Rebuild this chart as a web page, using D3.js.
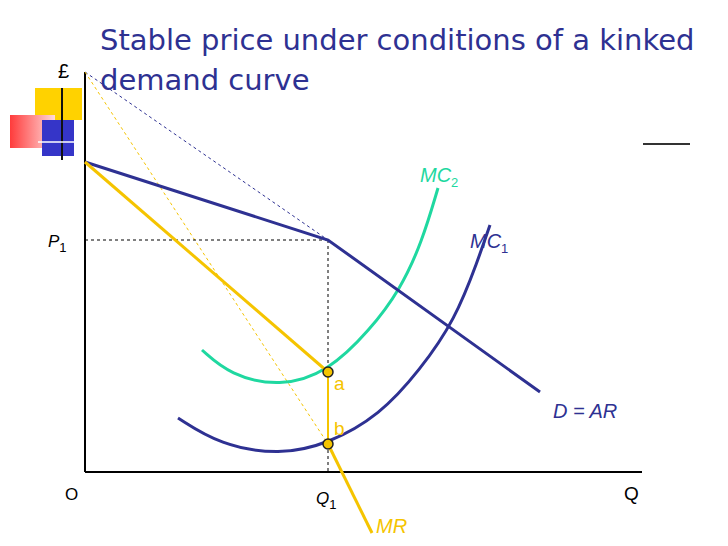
<!DOCTYPE html>
<html><head><meta charset="utf-8">
<script src="https://cdn.jsdelivr.net/npm/d3@7/dist/d3.min.js"></script>
<style>body{margin:0;background:#fff}text{font-family:"Liberation Sans",Arial,sans-serif}.title{font-family:Verdana,"DejaVu Sans",sans-serif}</style>
</head><body>
<script>
// curves in chart units (origin at O)
var demand = [[0, 310], [243, 232], [455, 80]];
var mrUpper = [[0, 310], [243, 100]];
var mrGap = [[243, 100], [243, 28]];
var mrLower = [[243, 28], [287, -61]];
var dashDark = [[0, 400], [243, 232]];
var dashYellow = [[0, 400], [243, 28]];
var mc2 = [[117, 122], [145, 97], [195, 85], [243, 100], [285, 142], [315, 182], [337, 230], [353, 284]];
var mc1 = [[93, 54], [135, 27], [195, 17], [243, 28], [295, 57], [335, 102], [370, 152], [393, 212], [405, 247]];
var kink = [243, 232];
var points = [[243, 100, "a"], [243, 28, "b"]];

var width = 728, height = 546;
var x = d3.scaleLinear().domain([0, 560]).range([85, 645]);
var y = d3.scaleLinear().domain([0, 400]).range([472, 72]);
var navy = "#2e3192", green = "#1fd8a0", yellow = "#f5c400";

var svg = d3.select("body").append("svg").attr("width", width).attr("height", height);

// decoration top-left
svg.append("rect").attr("x", 35).attr("y", 88).attr("width", 47).attr("height", 32).attr("fill", "#ffd200");
var grad = svg.append("defs").append("linearGradient").attr("id", "rg");
grad.append("stop").attr("offset", "0").attr("stop-color", "#ff3b3b");
grad.append("stop").attr("offset", "1").attr("stop-color", "#ffdada");
svg.append("rect").attr("x", 10).attr("y", 115).attr("width", 45).attr("height", 33).attr("fill", "url(#rg)");
svg.append("rect").attr("x", 42).attr("y", 120).attr("width", 32).attr("height", 36).attr("fill", "#3535c8");
svg.append("line").attr("x1", 62).attr("x2", 62).attr("y1", 88).attr("y2", 160).attr("stroke", "#111").attr("stroke-width", 2);
svg.append("line").attr("x1", 38).attr("x2", 80).attr("y1", 142).attr("y2", 142).attr("stroke", "#fff").attr("stroke-width", 1.5);
svg.append("line").attr("x1", 643).attr("x2", 690).attr("y1", 144).attr("y2", 144).attr("stroke", "#333").attr("stroke-width", 2);

// title
svg.append("text").attr("class", "title").attr("x", 100).attr("y", 50).attr("font-size", 29).attr("fill", navy).text("Stable price under conditions of a kinked");
svg.append("text").attr("class", "title").attr("x", 100).attr("y", 90).attr("font-size", 29).attr("fill", navy).text("demand curve");

// axes
svg.append("line").attr("x1", x(0)).attr("x2", x(0)).attr("y1", y(400)).attr("y2", y(0)).attr("stroke", "#000").attr("stroke-width", 2);
svg.append("line").attr("x1", x(0)).attr("x2", x(557)).attr("y1", y(0)).attr("y2", y(0)).attr("stroke", "#000").attr("stroke-width", 2);

var line = d3.line().x(function(d) { return x(d[0]); }).y(function(d) { return y(d[1]); });
var curve = d3.line().x(function(d) { return x(d[0]); }).y(function(d) { return y(d[1]); }).curve(d3.curveBasis);

function path(d, gen, color, w, dash) {
  var p = svg.append("path").attr("d", gen(d)).attr("fill", "none").attr("stroke", color).attr("stroke-width", w);
  if (dash) p.attr("stroke-dasharray", dash);
}
path(dashDark, line, navy, 1, "3,3");
path(dashYellow, line, yellow, 1, "3,3");
path([[0, kink[1]], kink], line, "#000", 1, "3,3");
path([kink, [kink[0], 0]], line, "#000", 1, "3,3");
path(mc2, curve, green, 3);
path(mc1, curve, navy, 3);
path(demand, line, navy, 3);
path(mrUpper, line, yellow, 3);
path(mrGap, line, yellow, 2);
path(mrLower, line, yellow, 3);

svg.selectAll("circle").data(points).enter().append("circle")
  .attr("cx", function(d) { return x(d[0]); }).attr("cy", function(d) { return y(d[1]); })
  .attr("r", 5).attr("fill", yellow).attr("stroke", "#222").attr("stroke-width", 1.5);
svg.selectAll(".pl").data(points).enter().append("text")
  .attr("x", function(d) { return x(d[0]) + 6; })
  .attr("y", function(d) { return d[2] == "a" ? y(d[1]) + 18 : y(d[1]) - 9; })
  .attr("font-size", 19).attr("fill", yellow).text(function(d) { return d[2]; });

function label(px, py, t, sub, color, italic, size) {
  var tx = svg.append("text").attr("x", px).attr("y", py).attr("font-size", size || 20).attr("fill", color);
  if (italic) tx.attr("font-style", "italic");
  tx.append("tspan").text(t);
  if (sub) tx.append("tspan").attr("font-size", 13).attr("font-style", "normal").attr("dy", 5).text(sub);
}
label(58, 78, "£", null, "#000");
label(48, 247, "P", "1", "#000", true, 17);
label(316, 504, "Q", "1", "#000", true, 17);
label(65, 500, "O", null, "#000", false, 17);
label(624, 500, "Q", null, "#000", false, 19);
label(420, 182, "MC", "2", green, true);
label(470, 248, "MC", "1", navy, true);
label(553, 418, "D = AR", null, navy, true);
label(376, 533, "MR", null, yellow, true);
</script>
</body></html>
